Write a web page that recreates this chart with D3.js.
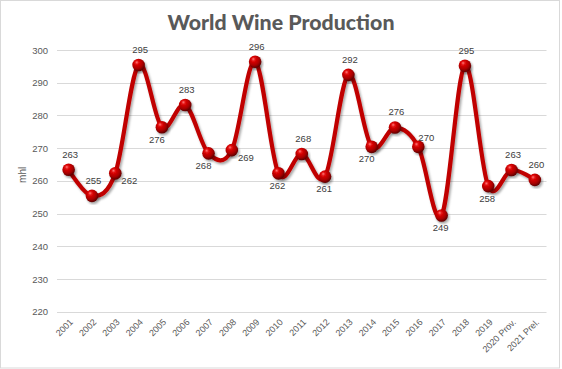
<!DOCTYPE html>
<html>
<head>
<meta charset="utf-8">
<script src="https://cdn.jsdelivr.net/npm/d3@7"></script>
<style>
  html, body { margin: 0; padding: 0; background: #fff; }
  svg { display: block; }
</style>
</head>
<body>
<svg id="chart" width="562" height="369"></svg>
<script>
// ---- data ----
const categories = ["2001","2002","2003","2004","2005","2006","2007","2008","2009","2010","2011","2012","2013","2014","2015","2016","2017","2018","2019","2020 Prov.","2021 Prel."];
const production = [263.4,255.4,262.3,295.4,276.4,283.2,268.4,269.4,296.4,262.3,268.2,261.3,292.4,270.4,276.3,270.4,249.4,295.2,258.4,263.3,260.3];
const labelPlacement = ["t","t","r","t","bl","t","bl","r","t","b","t","b","t","bl","t","tr","b","t","b","t","t"];
const yTicks = [220,230,240,250,260,270,280,290,300];
const titleText = "World Wine Production";
const yTitle = "mhl";

// ---- layout ----
const W = 562, H = 369;
const plot = { left: 57, right: 546.5, top: 50, bottom: 311.7 };
const textColor = "#595959";
const font = "'Liberation Sans', Arial, sans-serif";

const svg = d3.select("#chart");

// border
svg.append("rect").attr("x", 0.5).attr("y", 0.5).attr("width", 559).attr("height", 367.5)
  .attr("fill", "#fff").attr("stroke", "#d9d9d9").attr("stroke-width", 1);

const defs = svg.append("defs");
const grad = defs.append("radialGradient").attr("id", "ball").attr("cx", "40%").attr("cy", "35%").attr("r", "65%").attr("fx", "35%").attr("fy", "28%");
grad.append("stop").attr("offset", "0%").attr("stop-color", "#ff7a7a");
grad.append("stop").attr("offset", "25%").attr("stop-color", "#e00808");
grad.append("stop").attr("offset", "70%").attr("stop-color", "#a80000");
grad.append("stop").attr("offset", "100%").attr("stop-color", "#5c0000");

const shadow = defs.append("filter").attr("id", "shadow").attr("x", "-10%").attr("y", "-10%").attr("width", "130%").attr("height", "130%");
shadow.append("feDropShadow").attr("dx", 1.5).attr("dy", 2).attr("stdDeviation", 1.2)
  .attr("flood-color", "#000").attr("flood-opacity", 0.35);

// scales
const x = d3.scaleBand().domain(categories).range([plot.left, plot.right]);
const y = d3.scaleLinear().domain([220, 300]).range([plot.bottom, plot.top]);

// gridlines
svg.append("g").selectAll("line").data(yTicks).join("line")
  .attr("x1", plot.left).attr("x2", plot.right)
  .attr("y1", d => Math.round(y(d)) + 0.5).attr("y2", d => Math.round(y(d)) + 0.5)
  .attr("stroke", "#d9d9d9").attr("stroke-width", 1);

// y axis labels
const yAxis = d3.axisLeft(y).tickValues(yTicks).tickSize(0).tickPadding(0).tickFormat(d3.format("d"));
const gy = svg.append("g").attr("transform", `translate(${plot.left - 9},0)`).call(yAxis);
gy.select(".domain").remove();
gy.selectAll("text").attr("fill", textColor).attr("font-family", font).attr("font-size", "9.5px");

// x axis labels
const xAxis = d3.axisBottom(x).tickSize(0).tickPadding(0);
const gx = svg.append("g").attr("transform", `translate(0,${plot.bottom})`).call(xAxis);
gx.select(".domain").remove();
gx.selectAll("text")
  .attr("fill", textColor).attr("font-family", font).attr("font-size", "9px")
  .attr("text-anchor", "end").attr("dy", 0)
  .attr("transform", "translate(5,11) rotate(-45)");

// y title
svg.append("text").attr("transform", `translate(26,${(plot.top + plot.bottom) / 2 - 6}) rotate(-90)`)
  .attr("text-anchor", "middle").attr("fill", textColor).attr("font-family", font).attr("font-size", "10px")
  .text(yTitle);

// title
const title = svg.append("text").attr("x", 281).attr("y", 30).attr("text-anchor", "middle")
  .attr("fill", textColor).attr("font-family", "Lato, 'Open Sans', sans-serif").attr("font-weight", 900)
  .attr("font-size", "20px").text(titleText);
const tl = title.node().getComputedTextLength();
title.attr("font-size", (20 * 227 / tl).toFixed(2) + "px");

// line
const cx = (d, i) => x(categories[i]) + x.bandwidth() / 2;
const line = d3.line().x((d, i) => cx(d, i)).y(d => y(d)).curve(d3.curveCardinal.tension(0));
svg.append("path").datum(production).attr("d", line)
  .attr("fill", "none").attr("stroke", "#c00000").attr("stroke-width", 4.2)
  .attr("stroke-linejoin", "round").attr("stroke-linecap", "round")
  .attr("filter", "url(#shadow)");

// markers
svg.append("g").selectAll("circle").data(production).join("circle")
  .attr("cx", (d, i) => cx(d, i)).attr("cy", d => y(d)).attr("r", 6.3)
  .attr("fill", "url(#ball)").attr("filter", "url(#shadow)");

// data labels
const offsets = { t: [1.5, -15.5], b: [-1, 12.5], bl: [-5, 12], r: [14, 7.5], tr: [8, -9] };
svg.append("g").selectAll("text").data(production).join("text")
  .attr("x", (d, i) => cx(d, i) + offsets[labelPlacement[i]][0])
  .attr("y", (d, i) => y(d) + offsets[labelPlacement[i]][1])
  .attr("dy", "0.35em").attr("text-anchor", "middle")
  .attr("fill", "#404040").attr("font-family", font).attr("font-size", "9.5px")
  .text(d => d3.format(".0f")(d));
</script>
</body>
</html>
